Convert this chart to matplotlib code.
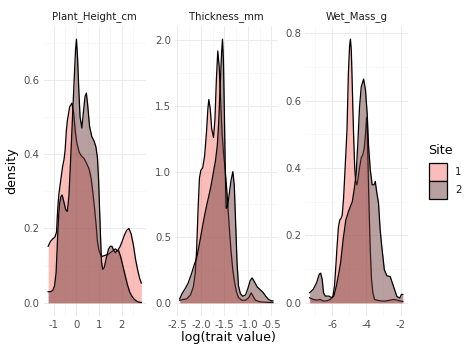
import matplotlib
matplotlib.use("Agg")
import matplotlib.pyplot as plt
from matplotlib.patches import Rectangle

plt.rcParams['font.family'] = ['DejaVu Sans']
plt.rcParams['axes.unicode_minus'] = False

# ---- data (log trait value, density) ----
traits = ["Plant_Height_cm", "Thickness_mm", "Wet_Mass_g"]
sites = ["1", "2"]

height_x1 = [-1.25, -1.15, -1.05, -0.95, -0.88, -0.83, -0.78, -0.73, -0.67, -0.61, -0.55, -0.5, -0.45, -0.4,
             -0.3, -0.2, -0.12, -0.05, 0.02, 0.12, 0.22, 0.34, 0.45, 0.56, 0.65, 0.72, 0.8, 0.87, 0.93, 1.0,
             1.08, 1.15, 1.28, 1.4, 1.5, 1.62, 1.72, 1.82, 1.92, 2.02, 2.12, 2.22, 2.32, 2.42, 2.52, 2.62,
             2.72, 2.8, 2.87]
height_y1 = [0.152, 0.165, 0.172, 0.177, 0.19, 0.25, 0.29, 0.313, 0.34, 0.367, 0.385, 0.41, 0.46, 0.49,
             0.527, 0.537, 0.51, 0.46, 0.43, 0.405, 0.395, 0.388, 0.375, 0.36, 0.335, 0.3, 0.255, 0.21, 0.165,
             0.14, 0.128, 0.125, 0.128, 0.13, 0.135, 0.14, 0.145, 0.14, 0.15, 0.165, 0.182, 0.195, 0.2, 0.185,
             0.155, 0.115, 0.085, 0.065, 0.053]
height_x2 = [-1.25, -1.15, -1.05, -0.97, -0.9, -0.85, -0.8, -0.75, -0.69, -0.63, -0.55, -0.47, -0.4, -0.33,
             -0.26, -0.18, -0.1, -0.04, 0.0, 0.05, 0.1, 0.16, 0.24, 0.32, 0.38, 0.44, 0.5, 0.58, 0.68, 0.78,
             0.86, 0.93, 0.98, 1.03, 1.07, 1.11, 1.16, 1.23, 1.32, 1.42, 1.5, 1.57, 1.64, 1.72, 1.8, 1.87,
             1.95, 2.05, 2.15, 2.25, 2.35, 2.45, 2.55, 2.65, 2.75, 2.87]
height_y2 = [0.03, 0.03, 0.033, 0.045, 0.08, 0.15, 0.22, 0.265, 0.285, 0.29, 0.27, 0.25, 0.246, 0.29,
             0.38, 0.49, 0.6, 0.68, 0.709, 0.66, 0.58, 0.5, 0.47, 0.52, 0.555, 0.564, 0.53, 0.475, 0.447, 0.435,
             0.42, 0.39, 0.33, 0.24, 0.17, 0.11, 0.09, 0.095, 0.12, 0.145, 0.152, 0.152, 0.142, 0.135, 0.14,
             0.14, 0.125, 0.1, 0.075, 0.05, 0.03, 0.018, 0.01, 0.005, 0.002, 0.001]

thick_x1 = [-2.45, -2.38, -2.3, -2.22, -2.16, -2.12, -2.09, -2.06, -2.03, -2.0, -1.96, -1.92, -1.88, -1.85,
            -1.83, -1.8, -1.77, -1.73, -1.7, -1.67, -1.64, -1.61, -1.58, -1.55, -1.52, -1.48, -1.44, -1.4,
            -1.36, -1.32, -1.28, -1.24, -1.2, -1.13, -1.05, -0.98, -0.93, -0.89, -0.84, -0.75, -0.65, -0.55,
            -0.47]
thick_y1 = [0.02, 0.025, 0.03, 0.06, 0.12, 0.22, 0.4, 0.7, 0.95, 1.01, 1.03, 1.12, 1.3, 1.48,
            1.55, 1.48, 1.33, 1.26, 1.4, 1.7, 1.92, 1.8, 1.55, 1.3, 1.15, 1.0, 0.82, 0.6,
            0.4, 0.25, 0.15, 0.08, 0.04, 0.02, 0.02, 0.04, 0.076, 0.05, 0.02, 0.008, 0.005, 0.003,
            0.003]
thick_x2 = [-2.45, -2.4, -2.33, -2.27, -2.2, -2.14, -2.09, -2.04, -1.99, -1.94, -1.89, -1.84, -1.79, -1.74,
            -1.69, -1.65, -1.62, -1.59, -1.56, -1.54, -1.52, -1.5, -1.48, -1.46, -1.43, -1.4, -1.36, -1.32,
            -1.29, -1.26, -1.23, -1.2, -1.16, -1.11, -1.05, -1.0, -0.95, -0.91, -0.86, -0.8, -0.74, -0.68,
            -0.62, -0.56, -0.5, -0.47]
thick_y2 = [0.03, 0.07, 0.11, 0.15, 0.22, 0.29, 0.34, 0.43, 0.53, 0.63, 0.72, 0.8, 0.88, 0.98,
            1.08, 1.2, 1.38, 1.65, 1.9, 2.01, 1.85, 1.45, 1.0, 0.72, 0.74, 0.82, 0.93, 1.0,
            0.9, 0.6, 0.3, 0.13, 0.07, 0.05, 0.06, 0.11, 0.17, 0.19, 0.16, 0.12, 0.1, 0.08,
            0.05, 0.025, 0.015, 0.015]

mass_x1 = [-7.31, -7.1, -6.9, -6.7, -6.5, -6.3, -6.1, -5.95, -5.86, -5.78, -5.71, -5.63, -5.55, -5.48,
           -5.41, -5.33, -5.23, -5.13, -5.05, -4.98, -4.93, -4.88, -4.84, -4.79, -4.74, -4.68, -4.62, -4.55,
           -4.48, -4.4, -4.3, -4.2, -4.12, -4.05, -3.99, -3.95, -3.92, -3.85, -3.78, -3.7, -3.62, -3.52,
           -3.4, -3.2, -3.0, -2.8, -2.6, -2.4, -2.2, -2.0, -1.87]
mass_y1 = [0.015, 0.01, 0.008, 0.01, 0.005, 0.006, 0.01, 0.02, 0.05, 0.11, 0.167, 0.225, 0.246, 0.25,
           0.26, 0.31, 0.41, 0.513, 0.68, 0.76, 0.782, 0.75, 0.68, 0.58, 0.49, 0.4, 0.36, 0.35,
           0.37, 0.4, 0.43, 0.44, 0.46, 0.5, 0.55, 0.53, 0.45, 0.3, 0.17, 0.07, 0.03, 0.01,
           0.008, 0.006, 0.005, 0.006, 0.008, 0.01, 0.008, 0.005, 0.004]
mass_x2 = [-7.31, -7.1, -6.9, -6.75, -6.67, -6.58, -6.5, -6.4, -6.2, -6.0, -5.9, -5.75, -5.6, -5.5,
           -5.35, -5.2, -5.05, -4.93, -4.82, -4.7, -4.6, -4.5, -4.4, -4.3, -4.16, -4.05, -3.95, -3.87,
           -3.77, -3.66, -3.55, -3.48, -3.4, -3.29, -3.2, -3.1, -2.95, -2.8, -2.61, -2.41, -2.22, -2.05,
           -1.95, -1.87]
mass_y2 = [0.03, 0.04, 0.06, 0.085, 0.088, 0.07, 0.03, 0.02, 0.02, 0.015, 0.02, 0.05, 0.09, 0.12,
           0.19, 0.245, 0.27, 0.286, 0.3, 0.34, 0.38, 0.47, 0.58, 0.64, 0.664, 0.63, 0.56, 0.464,
           0.394, 0.35, 0.35, 0.36, 0.33, 0.296, 0.22, 0.167, 0.098, 0.08, 0.078, 0.048, 0.019, 0.014,
           0.025, 0.025]

x_ticks = [[-1, 0, 1, 2], [-2.5, -2.0, -1.5, -1.0, -0.5], [-6, -4, -2]]
x_labels = [["-1", "0", "1", "2"], ["-2.5", "-2.0", "-1.5", "-1.0", "-0.5"], ["-6", "-4", "-2"]]
y_ticks = [[0, 0.2, 0.4, 0.6], [0, 0.5, 1.0, 1.5, 2.0], [0, 0.2, 0.4, 0.6, 0.8]]
y_labels = [["0.0", "0.2", "0.4", "0.6"], ["0.0", "0.5", "1.0", "1.5", "2.0"],
            ["0.0", "0.2", "0.4", "0.6", "0.8"]]
x_minor = [[-0.5, 0.5, 1.5, 2.5], [-2.25, -1.75, -1.25, -0.75], [-7, -5, -3]]
y_minor = [[0.1, 0.3, 0.5, 0.7], [0.25, 0.75, 1.25, 1.75], [0.1, 0.3, 0.5, 0.7]]

curves = [
    [(height_x1, height_y1), (height_x2, height_y2)],
    [(thick_x1, thick_y1), (thick_x2, thick_y2)],
    [(mass_x1, mass_y1), (mass_x2, mass_y2)],
]

fill_cols = ["#F8766D", "#6E3A3A"]
fill_alpha = 0.48

W, H = 474, 355
fig = plt.figure(figsize=(W / 100, H / 100), dpi=100)

panel_left = [43.5, 175, 305]
panel_w = 102.5
panel_top, panel_bot = 26, 316

for i in range(3):
    ax = fig.add_axes([panel_left[i] / W, 1 - panel_bot / H, panel_w / W, (panel_bot - panel_top) / H])
    for j, (xs, ys) in enumerate(curves[i]):
        ax.fill_between(xs, 0, ys, color=fill_cols[j], alpha=fill_alpha, lw=0, zorder=2 + j)
        ax.plot(xs, ys, color="black", lw=0.9, zorder=2.5 + j)
    ax.margins(x=0.05, y=0.05)
    ax.set_xticks(x_ticks[i])
    ax.set_xticklabels(x_labels[i])
    ax.set_yticks(y_ticks[i])
    ax.set_yticklabels(y_labels[i])
    ax.set_xticks(x_minor[i], minor=True)
    ax.set_yticks(y_minor[i], minor=True)
    ax.grid(True, which="major", color="#EBEBEB", lw=0.75, zorder=0)
    ax.grid(True, which="minor", color="#F3F3F3", lw=0.4, zorder=0)
    ax.set_axisbelow(True)
    for s in ax.spines.values():
        s.set_visible(False)
    ax.tick_params(which="both", length=0, pad=2.8, labelsize=7.3, labelcolor="#4D4D4D")
    ax.set_title(traits[i], fontsize=7.3, color="#1A1A1A", pad=5)

fig.text(228 / W, 1 - 337 / H, "log(trait value)", ha="center", va="center", fontsize=9.1)
fig.text(12 / W, 1 - 171 / H, "density", ha="center", va="center", fontsize=9.1, rotation=90)

# legend
fig.text(428 / W, 1 - 150 / H, "Site", ha="left", va="center", fontsize=9.1)
for j, lab in enumerate(sites):
    y0 = 163 + j * 18
    fig.patches.append(Rectangle((429 / W, 1 - (y0 + 17.5) / H), 17.5 / W, 17.5 / H,
                                 transform=fig.transFigure, facecolor="white", edgecolor="none"))
    fig.patches.append(Rectangle((429 / W, 1 - (y0 + 17.5) / H), 17.5 / W, 17.5 / H,
                                 transform=fig.transFigure, facecolor=fill_cols[j], alpha=fill_alpha,
                                 edgecolor="none"))
    fig.patches.append(Rectangle((429 / W, 1 - (y0 + 17.5) / H), 17.5 / W, 17.5 / H,
                                 transform=fig.transFigure, facecolor="none", edgecolor="black", lw=0.9))
    fig.text(455 / W, 1 - (y0 + 9) / H, lab, ha="left", va="center", fontsize=7.3, color="#1A1A1A")

fig.savefig("out.png", dpi=100)
